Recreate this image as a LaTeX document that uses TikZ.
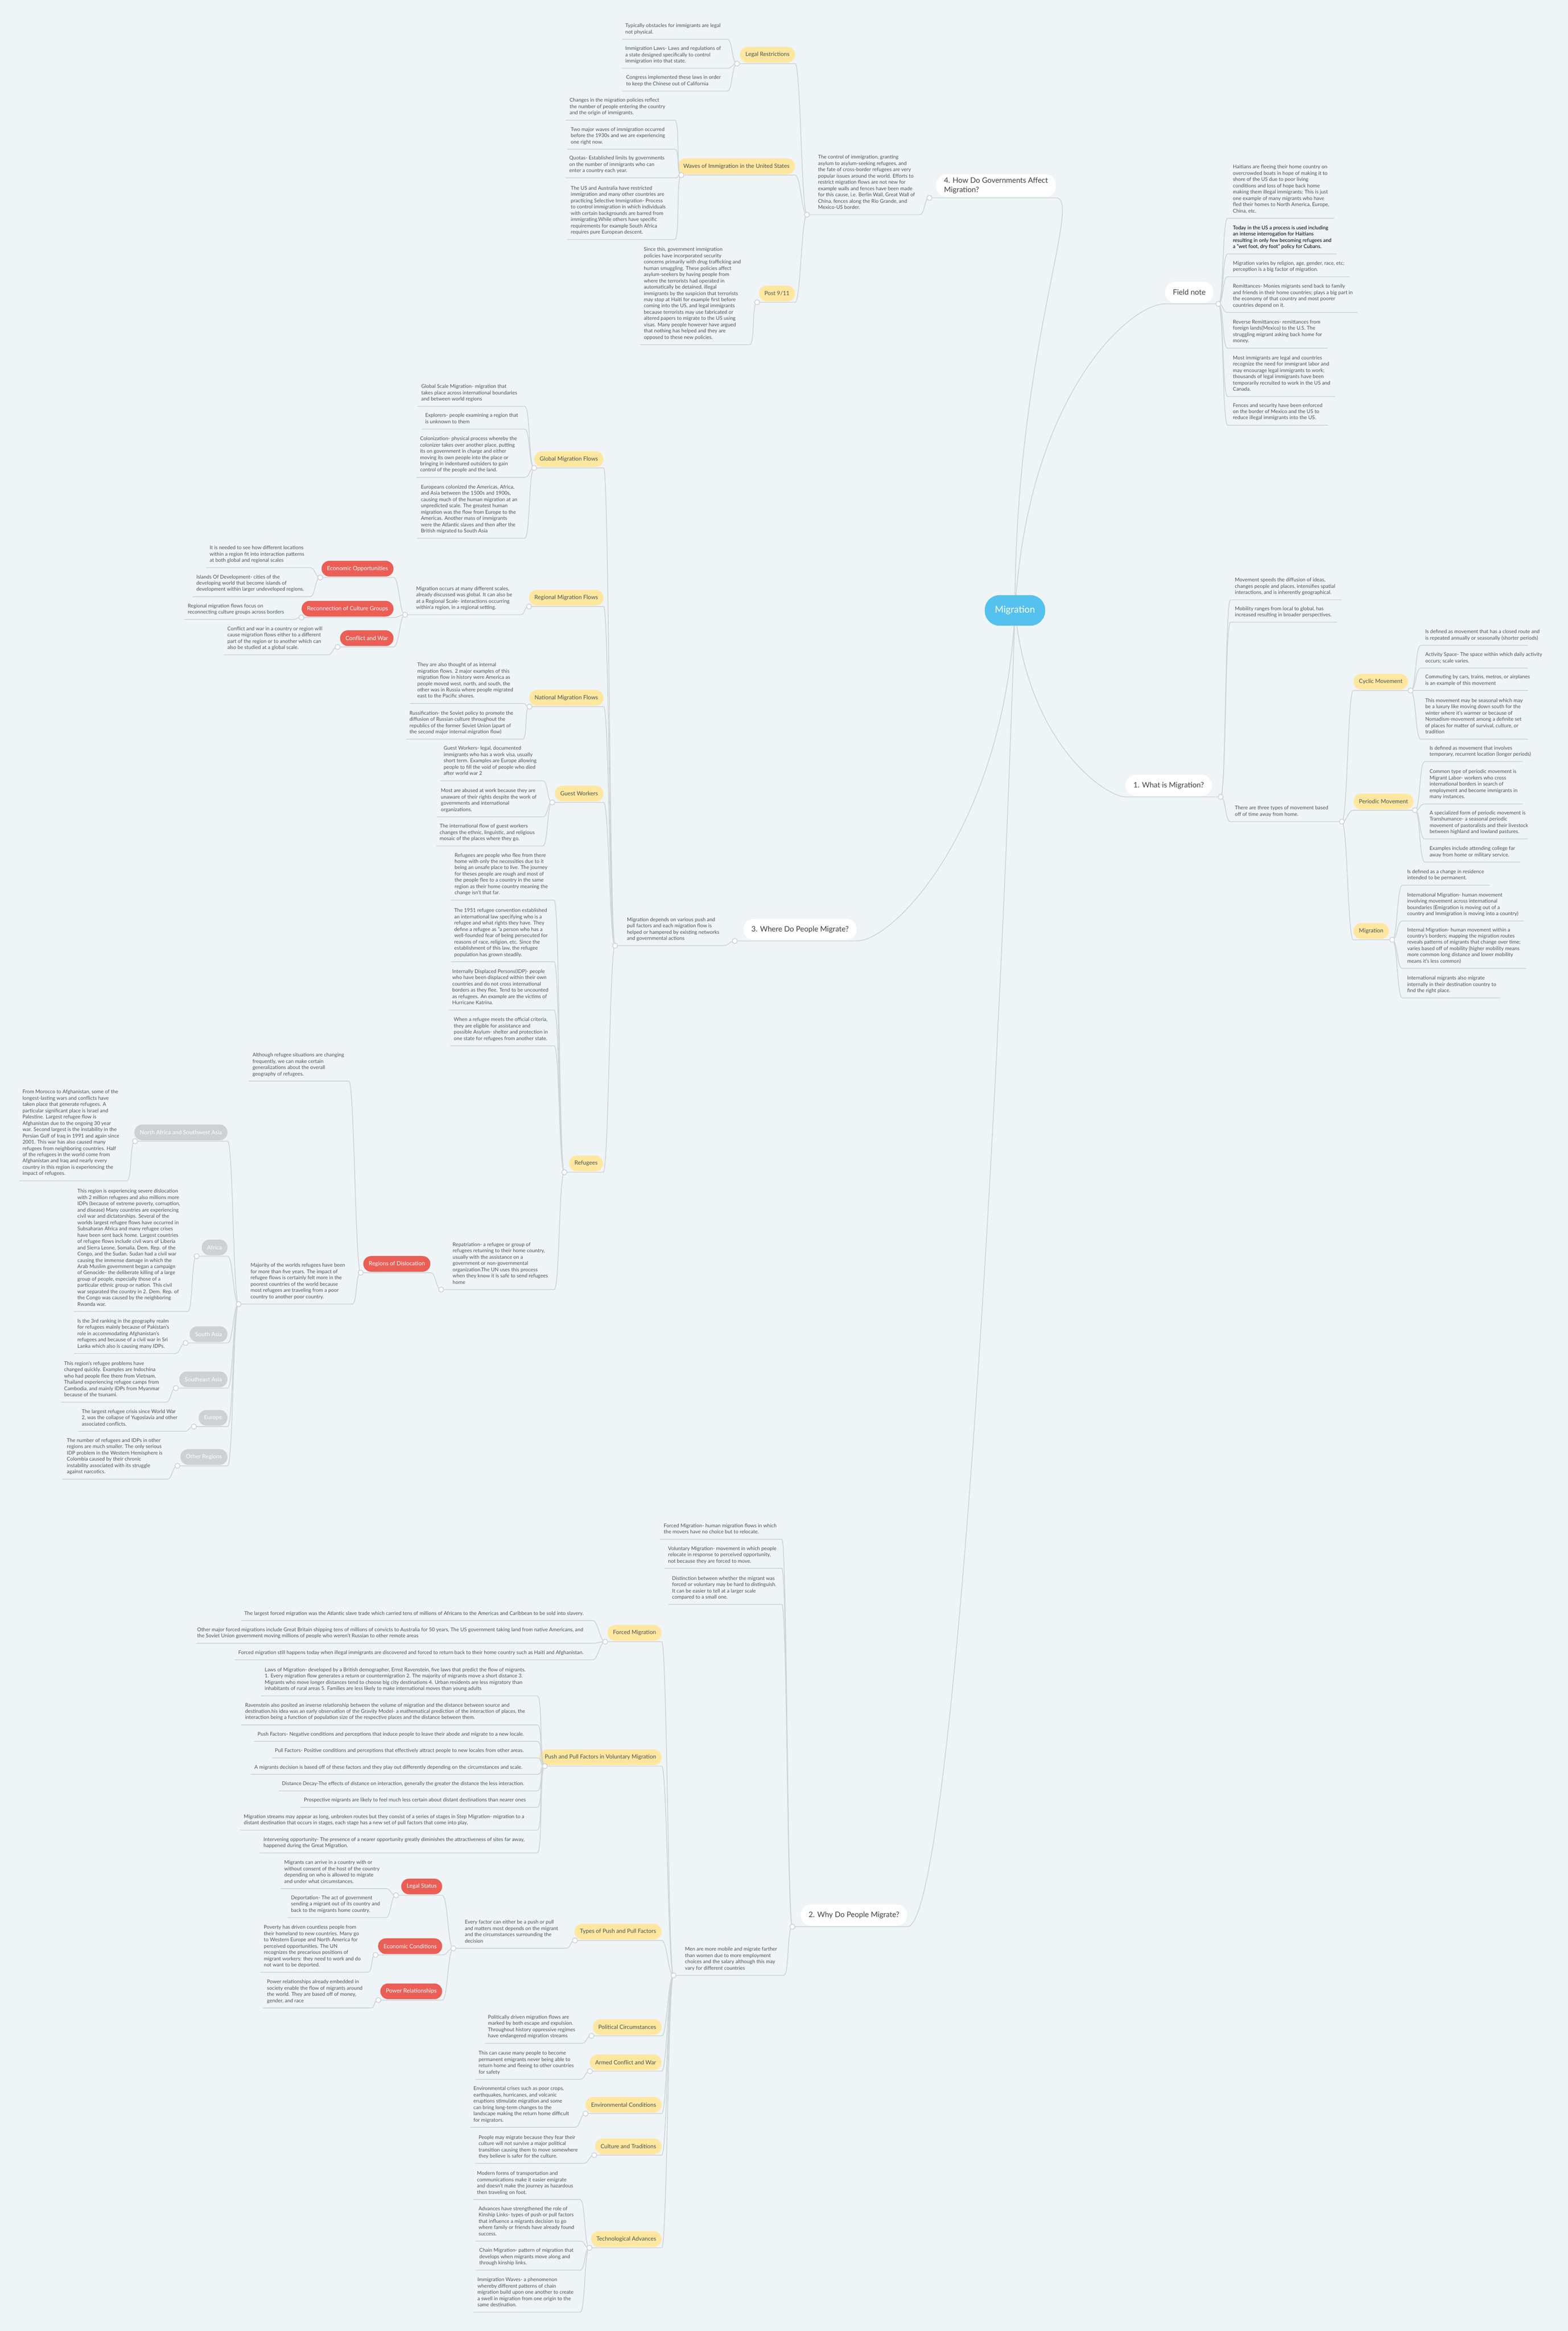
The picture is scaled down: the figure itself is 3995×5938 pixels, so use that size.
\documentclass[tikz,border=0pt]{standalone}
\usepackage{fontspec}
\setmainfont{Lato}
\usetikzlibrary{calc}
\definecolor{bgc}{HTML}{EFF4F7}
\definecolor{lnc}{HTML}{CFD4D8}
\definecolor{txt}{HTML}{4D5257}
\definecolor{yel}{HTML}{FFE7A0}
\definecolor{redp}{HTML}{EB5E55}
\definecolor{grayp}{HTML}{CDD1D4}
\definecolor{rootc}{HTML}{55C1EE}
\tikzset{
 ln/.style={draw=lnc,line width=1pt},
 leaf/.style={inner sep=0pt,align=left,text=txt,font=\fontsize{6.5}{8}\selectfont,execute at end node=\strut},
 ypill/.style={fill=yel,text=txt,rounded corners=10pt,minimum height=20pt,inner xsep=7pt,inner ysep=0pt,font=\fontsize{7.3}{8}\selectfont},
 rpill/.style={ypill,fill=redp,text=white},
 gpill/.style={ypill,fill=grayp,text=white},
 mpill/.style={fill=white,text=black!75,rounded corners=13pt,minimum height=27pt,inner xsep=10pt,inner ysep=4pt,align=left,font=\fontsize{9.5}{12}\selectfont},
 jc/.style={circle,draw=lnc,fill=white,line width=1pt,inner sep=0pt,minimum size=6.5pt}
}
\newcommand\LL[8][]{\node[leaf,anchor=south west,#1] (#2) at (#3,#6-9) {#8};
 \draw[ln] (#4,#6) -- (#5,#6) .. controls (#5+14,#6) and ([xshift=-7pt]#7) .. (#7);}
\newcommand\RL[8][]{\node[leaf,anchor=south west,#1] (#2) at (#3,#6-9) {#8};
 \draw[ln] (#7) .. controls ([xshift=7pt]#7) and (#4-14,#6) .. (#4,#6) -- (#5,#6);}
\newcommand\PL[7]{\node[#1,anchor=south east] (#2) at (#3,#4-2) {#7};
 \coordinate (#2-j) at (#5,#4);
 \draw[ln] (#2-j) -- (#3,#4) .. controls (#3+14,#4) and ([xshift=-7pt]#6) .. (#6);}
\newcommand\PR[7]{\node[#1,anchor=south west] (#2) at (#3,#4-2) {#7};
 \coordinate (#2-j) at (#5,#4);
 \draw[ln] (#6) .. controls ([xshift=7pt]#6) and (#3-14,#4) .. (#3,#4) -- (#2-j);}
\begin{document}
\begin{tikzpicture}[x=0.5pt,y=-0.5pt]
\fill[bgc] (0,0) rectangle (3995,5938);
\useasboundingbox (0,0) rectangle (3995,5938);
\coordinate (rootc) at (2586,1555);
% ---------- main pills
\node[mpill,anchor=south west] (m4) at (2385,502) {4. How Do Governments Affect\\Migration?};
\coordinate (m4-j) at (2368,504);
\draw[ln] (m4-j) -- (m4.south east |- m4-j) .. controls (2760,504) and (2586,900) .. (rootc);
\node[mpill,anchor=south west] (fn) at (2968,772) {Field note};
\coordinate (fn-j) at (3104,774);
\draw[ln] (rootc) .. controls (2620,1000) and (2880,774) .. (fn.south west |- fn-j) -- (fn-j);
\node[mpill,anchor=south east] (m1) at (3088,2028) {1. What is Migration?};
\coordinate (m1-j) at (3110,2030);
\draw[ln] (rootc) .. controls (2620,1900) and (2820,2030) .. (m1.south west |- m1-j) -- (m1-j);
\node[mpill,anchor=south west] (m3) at (1894,2395) {3. Where Do People Migrate?};
\coordinate (m3-j) at (1872,2397);
\draw[ln] (m3-j) -- (m3.south east |- m3-j) .. controls (2280,2397) and (2560,2100) .. (rootc);
\node[mpill,anchor=south west] (m2) at (2040,4906) {2. Why Do People Migrate?};
\coordinate (m2-j) at (2019,4908);
\draw[ln] (m2-j) -- (m2.south east |- m2-j) .. controls (2420,4908) and (2540,3000) .. (rootc);
% ---------- section 4
\LL{s4}{2084}{2056}{2343}{547}{m4-j}{The control of immigration, granting\\asylum to asylum-seeking refugees, and\\the fate of cross-border refugees are very\\popular issues around the world. Efforts to\\restrict migration flows are not new for\\example walls and fences have been made\\for this cause, i.e. Berlin Wall, Great Wall of\\China, fences along the Rio Grande, and\\Mexico-US border.}
\coordinate (s4j) at (2056,547);
\PL{ypill}{lr}{2026}{162}{1878}{s4j}{Legal Restrictions}
\PL{ypill}{wv}{2026}{446}{1736}{s4j}{Waves of Immigration in the United States}
\PL{ypill}{po}{2026}{770}{1929}{s4j}{Post 9/11}
\LL{a1}{1593}{1585}{1853}{100}{lr-j}{Typically obstacles for immigrants are legal\\not physical.}
\LL{a2}{1593}{1585}{1853}{174}{lr-j}{Immigration Laws- Laws and regulations of\\a state designed specifically to control\\immigration into that state.}
\LL{a3}{1595}{1586}{1853}{232}{lr-j}{Congress implemented these laws in order\\to keep the Chinese out of California}
\LL{b1}{1451}{1441}{1719}{306}{wv-j}{Changes in the migration policies reflect\\the number of people entering the country\\and the origin of immigrants.}
\LL{b2}{1454}{1445}{1719}{380}{wv-j}{Two major waves of immigration occurred\\before the 1930s and we are experiencing\\one right now.}
\LL{b3}{1450}{1441}{1719}{453}{wv-j}{Quotas- Established limits by governments\\on the number of immigrants who can\\enter a country each year.}
\LL{b4}{1454}{1445}{1719}{610}{wv-j}{The US and Australia have restricted\\immigration and many other countries are\\practicing Selective Immigration- Process\\to control immigration in which individuals\\with certain backgrounds are barred from\\immigrating.While others have specific\\requirements for example South Africa\\requires pure European descent.}
\LL{c1}{1640}{1631}{1910}{878}{po-j}{Since this, government immigration\\policies have incorporated security\\concerns primarily with drug trafficking and\\human smuggling. These policies affect\\asylum-seekers by having people from\\where the terrorists had operated in\\automatically be detained, illegal\\immigrants by the suspicion that terrorists\\may stop at Haiti for example first before\\coming into the US, and legal immigrants\\because terrorists may use fabricated or\\altered papers to migrate to the US using\\visas. Many people however have argued\\that nothing has helped and they are\\opposed to these new policies.}
% ---------- field note
\RL{d1}{3141}{3128}{3399}{556}{fn-j}{Haitians are fleeing their home country on\\overcrowded boats in hope of making it to\\shore of the US due to poor living\\conditions and loss of hope back home\\making them illegal immigrants; This is just\\one example of many migrants who have\\fled their homes to North America, Europe,\\China, etc.}
\RL[text=black]{d2}{3141}{3128}{3406}{647}{fn-j}{Today in the US a process is used including\\an intense interrogation for Haitians\\resulting in only few becoming refugees and\\a "wet foot, dry foot" policy for Cubans.}
\RL{d3}{3141}{3128}{3439}{705}{fn-j}{Migration varies by religion, age, gender, race, etc;\\perception is a big factor of migration.}
\RL{d4}{3141}{3128}{3459}{796}{fn-j}{Remittances- Monies migrants send back to family\\and friends in their home countries; plays a big part in\\the economy of that country and most poorer\\countries depend on it.}
\RL{d5}{3141}{3128}{3383}{887}{fn-j}{Reverse Remittances- remittances from\\foreign lands(Mexico) to the U.S. The\\struggling migrant asking back home for\\money.}
\RL{d6}{3141}{3128}{3401}{1010}{fn-j}{Most immigrants are legal and countries\\recognize the need for immigrant labor and\\may encourage legal immigrants to work;\\thousands of legal immigrants have been\\temporarily recruited to work in the US and\\Canada.}
\RL{d7}{3141}{3128}{3384}{1083}{fn-j}{Fences and security have been enforced\\on the border of Mexico and the US to\\reduce illegal immigrants into the US.}
% ---------- section 1
\RL{e1}{3146}{3135}{3419}{1528}{m1-j}{Movement speeds the diffusion of ideas,\\changes people and places, intensifies spatial\\interactions, and is inherently geographical.}
\RL{e2}{3146}{3135}{3407}{1585}{m1-j}{Mobility ranges from local to global, has\\increased resulting in broader perspectives.}
\RL{e3}{3146}{3135}{3419}{2093}{m1-j}{There are three types of movement based\\off of time away from home.}
\coordinate (t3j) at (3419,2093);
\PR{ypill}{cyc}{3448}{1759}{3594}{t3j}{Cyclic Movement}
\PR{ypill}{per}{3448}{2064}{3605}{t3j}{Periodic Movement}
\PR{ypill}{mig}{3448}{2394}{3547}{t3j}{Migration}
\RL{f1}{3631}{3620}{3893}{1644}{cyc-j}{Is defined as movement that has a closed route and\\is repeated annually or seasonally (shorter periods)}
\RL{f2}{3631}{3620}{3893}{1702}{cyc-j}{Activity Space- The space within which daily activity\\occurs; scale varies.}
\RL{f3}{3631}{3620}{3893}{1759}{cyc-j}{Commuting by cars, trains, metros, or airplanes\\is an example of this movement}
\RL{f4}{3631}{3620}{3893}{1883}{cyc-j}{This movement may be seasonal which may\\be a luxury like moving down south for the\\winter where it's warmer or because of\\Nomadism-movement among a definite set\\of places for matter of survival, culture, or\\tradition}
\RL{g1}{3642}{3630}{3880}{1940}{per-j}{Is defined as movement that involves\\temporary, recurrent location (longer periods)}
\RL{g2}{3642}{3630}{3880}{2048}{per-j}{Common type of periodic movement is\\Migrant Labor- workers who cross\\international borders in search of\\employment and become immigrants in\\many instances.}
\RL{g3}{3642}{3630}{3893}{2137}{per-j}{A specialized form of periodic movement is\\Transhumance- a seasonal periodic\\movement of pastoralists and their livestock\\between highland and lowland pastures.}
\RL{g4}{3642}{3630}{3874}{2196}{per-j}{Examples include attending college far\\away from home or military service.}
\RL{h1}{3585}{3573}{3795}{2255}{mig-j}{Is defined as a change in residence\\intended to be permanent.}
\RL{h2}{3585}{3573}{3883}{2346}{mig-j}{International Migration- human movement\\involving movement across international\\boundaries (Emigration is moving out of a\\country and Immigration is moving into a country)}
\RL{h3}{3585}{3573}{3889}{2467}{mig-j}{Internal Migration- human movement within a\\country's borders; mapping the migration routes\\reveals patterns of migrants that change over time;\\varies based off of mobility (higher mobility means\\more common long distance and lower mobility\\means it's less common)}
\RL{h4}{3585}{3573}{3822}{2542}{mig-j}{International migrants also migrate\\internally in their destination country to\\find the right place.}
% ---------- section 3
\LL{s3}{1597}{1567}{1843}{2409}{m3-j}{Migration depends on various push and\\pull factors and each migration flow is\\helped or hampered by existing networks\\and governmental actions}
\coordinate (s3j) at (1567,2409);
\PL{ypill}{glob}{1538}{1192}{1361}{s3j}{Global Migration Flows}
\PL{ypill}{reg}{1538}{1545}{1348}{s3j}{Regional Migration Flows}
\PL{ypill}{nat}{1538}{1800}{1349}{s3j}{National Migration Flows}
\PL{ypill}{gw}{1538}{2044}{1407}{s3j}{Guest Workers}
\PL{ypill}{ref}{1537}{2986}{1438}{s3j}{Refugees}
\LL{k1}{1073}{1064}{1337}{1035}{glob-j}{Global Scale Migration- migration that\\takes place across international boundaries\\and between world regions}
\LL{k2}{1083}{1075}{1337}{1093}{glob-j}{Explorers- people examining a region that\\is unknown to them}
\LL{k3}{1070}{1061}{1337}{1216}{glob-j}{Colonization- physical process whereby the\\colonizer takes over another place, putting\\its on government in charge and either\\moving its own people into the place or\\bringing in indentured outsiders to gain\\control of the people and the land.}
\LL{k4}{1072}{1063}{1337}{1371}{glob-j}{Europeans colonized the Americas, Africa,\\and Asia between the 1500s and 1900s,\\causing much of the human migration at an\\unpredicted scale. The greatest human\\migration was the flow from Europe to the\\Americas. Another mass of immigrants\\were the Atlantic slaves and then after the\\British migrated to South Asia}
\LL{k5}{1060}{1032}{1325}{1566}{reg-j}{Migration occurs at many different scales,\\already discussed was global. It can also be\\at a Regional Scale- interactions occurring\\within`a region, in a regional setting.}
\coordinate (rlj) at (1032,1566);
\PL{rpill}{eo}{1003}{1471}{816}{rlj}{Economic Opportunities}
\PL{rpill}{rc}{1003}{1573}{768}{rlj}{Reconnection of Culture Groups}
\PL{rpill}{cw}{1003}{1648}{860}{rlj}{Conflict and War}
\LL{n1}{534}{525}{790}{1446}{eo-j}{It is needed to see how different locations\\within a region fit into interaction patterns\\at both global and regional scales}
\LL{n2}{500}{491}{790}{1520}{eo-j}{Islands Of Development- cities of the\\developing world that become islands of\\development within larger undeveloped regions.}
\LL{n3}{478}{469}{745}{1578}{rc-j}{Regional migration flows focus on\\reconnecting culture groups across borders}
\LL{n4}{579}{570}{835}{1668}{cw-j}{Conflict and war in a country or region will\\cause migration flows either to a different\\part of the region or to another which can\\also be studied at a global scale.}
\LL{p1}{1063}{1045}{1331}{1792}{nat-j}{They are also thought of as internal\\migration flows. 2 major examples of this\\migration flow in history were America as\\people moved west, north, and south, the\\other was in Russia where people migrated\\east to the Pacific shores.}
\LL{p2}{1043}{1035}{1331}{1883}{nat-j}{Russification- the Soviet policy to promote the\\diffusion of Russian culture throughout the\\republics of the former Soviet Union (apart of\\the second major internal migration flow)}
\LL{q1}{1130}{1122}{1383}{1989}{gw-j}{Guest Workers- legal, documented\\immigrants who has a work visa, usually\\short term. Examples are Europe allowing\\people to fill the void of people who died\\after world war 2}
\LL{q2}{1123}{1114}{1383}{2081}{gw-j}{Most are abused at work because they are\\unaware of their rights despite the work of\\governments and international\\organizations.}
\LL{q3}{1120}{1112}{1383}{2155}{gw-j}{The international flow of guest workers\\changes the ethnic, linguistic, and religious\\mosaic of the places where they go.}
\LL{r1}{1158}{1149}{1412}{2293}{ref-j}{Refugees are people who flee from there\\home with only the necessities due to it\\being an unsafe place to live. The journey\\for theses people are rough and most of\\the people flee to a country in the same\\region as their home country meaning the\\change isn't that far.}
\LL{r2}{1157}{1149}{1412}{2450}{ref-j}{The 1951 refugee convention established\\an international law specifying who is a\\refugee and what rights they have. They\\define a refugee as "a person who has a\\well-founded fear of being persecuted for\\reasons of race, religion, etc. Since the\\establishment of this law, the refugee\\population has grown steadily.}
\LL{r3}{1152}{1143}{1412}{2573}{ref-j}{Internally Displaced Persons(IDP)- people\\who have been displaced within their own\\countries and do not cross international\\borders as they flee. Tend to be uncounted\\as refugees. An example are the victims of\\Hurricane Katrina.}
\LL{r4}{1156}{1147}{1412}{2664}{ref-j}{When a refugee meets the official criteria,\\they are eligible for assistance and\\possible Asylum- shelter and protection in\\one state for refugees from another state.}
\LL{r5}{1153}{1124}{1412}{3285}{ref-j}{Repatriation- a refugee or group of\\refugees returning to their home country,\\usually with the assistance on a\\government or non-governmental\\organization.The UN uses this process\\when they know it is safe to send refugees\\home}
\coordinate (rpj) at (1124,3285);
\PL{rpill}{rod}{1097}{3242}{919}{rpj}{Regions of Dislocation}
\LL{t1}{643}{634}{889}{2754}{rod-j}{Although refugee situations are changing\\frequently, we can make certain\\generalizations about the overall\\geography of refugees.}
\LL{t2}{638}{608}{897}{3322}{rod-j}{Majority of the worlds refugees have been\\for more than five years. The impact of\\refugee flows is certainly felt more in the\\poorest countries of the world because\\most refugees are traveling from a poor\\country to another poor country.}
\coordinate (mjj) at (608,3322);
\PL{gpill}{na}{580}{2907}{344}{mjj}{North Africa and Southwest Asia}
\PL{gpill}{af}{580}{3200}{501}{mjj}{Africa}
\PL{gpill}{sa}{580}{3421}{473}{mjj}{South Asia}
\PL{gpill}{sea}{580}{3536}{448}{mjj}{Southeast Asia}
\PL{gpill}{eu}{580}{3634}{494}{mjj}{Europe}
\PL{gpill}{ot}{580}{3734}{452}{mjj}{Other Regions}
\LL{u1}{57}{49}{323}{3008}{na-j}{From Morocco to Afghanistan, some of the\\longest-lasting wars and conflicts have\\taken place that generate refugees. A\\particular significant place is Israel and\\Palestine. Largest refugee flow is\\Afghanistan due to the ongoing 30 year\\war. Second largest is the instability in the\\Persian Gulf of Iraq in 1991 and again since\\2001. This war has also caused many\\refugees from neighboring countries. Half\\of the refugees in the world come from\\Afghanistan and Iraq and nearly every\\country in this region is experiencing the\\impact of refugees.}
\LL{u2}{197}{188}{478}{3341}{af-j}{This region is experiencing severe dislocation\\with 2 million refugees and also millions more\\IDPs (because of extreme poverty, corruption,\\and disease) Many countries are experiencing\\civil war and dictatorships. Several of the\\worlds largest refugee flows have occurred in\\Subsaharan Africa and many refugee crises\\have been sent back home. Largest countries\\of refugee flows include civil wars of Liberia\\and Sierra Leone, Somalia, Dem. Rep. of the\\Congo, and the Sudan. Sudan had a civil war\\causing the immense damage in which the\\Arab Muslim government began a campaign\\of Genocide- the deliberate killing of a large\\group of people, especially those of a\\particular ethnic group or nation. This civil\\war separated the country in 2. Dem. Rep. of\\the Congo was caused by the neighboring\\Rwanda war.}
\LL{u3}{197}{188}{446}{3448}{sa-j}{Is the 3rd ranking in the geography realm\\for refugees mainly because of Pakistan's\\role in accommodating Afghanistan's\\refugees and because of a civil war in Sri\\Lanka which also is causing many IDPs.}
\LL{u4}{163}{155}{423}{3572}{sea-j}{This region's refugee problems have\\changed quickly. Examples are Indochina\\who had people flee there from Vietnam,\\Thailand experiencing refugee camps from\\Cambodia, and mainly IDPs from Myanmar\\because of the tsunami.}
\LL{u5}{208}{199}{470}{3646}{eu-j}{The largest refugee crisis since World War\\2, was the collapse of Yugoslavia and other\\associated conflicts.}
\LL{u6}{170}{159}{426}{3768}{ot-j}{The number of refugees and IDPs in other\\regions are much smaller. The only serious\\IDP problem in the Western Hemisphere is\\Colombia caused by their chronic\\instability associated with its struggle\\against narcotics.}
% ---------- section 2
\LL{v1}{1691}{1681}{1992}{3921}{m2-j}{Forced Migration- human migration flows in which\\the movers have no choice but to relocate.}
\LL{v2}{1702}{1693}{1992}{3995}{m2-j}{Voluntary Migration- movement in which people\\relocate in response to perceived opportunity,\\not because they are forced to move.}
\LL{v3}{1712}{1703}{1992}{4087}{m2-j}{Distinction between whether the migrant was\\forced or voluntary may be hard to distinguish.\\It can be easier to tell at a larger scale\\compared to a small one.}
\LL{v4}{1745}{1716}{1997}{5032}{m2-j}{Men are more mobile and migrate farther\\than women due to more employment\\choices and the salary although this may\\vary for different countries}
\coordinate (mnj) at (1716,5032);
\PL{ypill}{fm}{1686}{4182}{1542}{mnj}{Forced Migration}
\PL{ypill}{pp}{1686}{4499}{1388}{mnj}{Push and Pull Factors in Voluntary Migration}
\PL{ypill}{ty}{1686}{4943}{1465}{mnj}{Types of Push and Pull Factors}
\PL{ypill}{pc}{1686}{5186}{1507}{mnj}{Political Circumstances}
\PL{ypill}{ac}{1686}{5276}{1503}{mnj}{Armed Conflict and War}
\PL{ypill}{en}{1686}{5384}{1492}{mnj}{Environmental Conditions}
\PL{ypill}{cu}{1686}{5490}{1514}{mnj}{Culture and Traditions}
\PL{ypill}{te}{1686}{5726}{1502}{mnj}{Technological Advances}
\LL{w1}{622}{615}{1510}{4128}{fm-j}{The largest forced migration was the Atlantic slave trade which carried tens of millions of Africans to the Americas and Caribbean to be sold into slavery.}
\LL{w2}{502}{500}{1510}{4186}{fm-j}{Other major forced migrations include Great Britain shipping tens of millions of convicts to Australia for 50 years, The US government taking land from native Americans, and\\the Soviet Union government moving millions of people who weren't Russian to other remote areas}
\LL{w3}{607}{598}{1510}{4228}{fm-j}{Forced migration still happens today when illegal immigrants are discovered and forced to return back to their home country such as Haiti and Afghanistan.}
\LL{x1}{674}{665}{1369}{4320}{pp-j}{Laws of Migration- developed by a British demographer, Ernst Ravenstein, five laws that predict the flow of migrants.\\1. Every migration flow generates a return or countermigration 2. The majority of migrants move a short distance 3.\\Migrants who move longer distances tend to choose big city destinations 4. Urban residents are less migratory than\\inhabitants of rural areas 5. Families are less likely to make international moves than young adults}
\LL{x2}{624}{615}{1369}{4394}{pp-j}{Ravenstein also posited an inverse relationship between the volume of migration and the distance between source and\\destination.his idea was an early observation of the Gravity Model- a mathematical prediction of the interaction of places, the\\interaction being a function of population size of the respective places and the distance between them.}
\LL{x3}{656}{647}{1369}{4436}{pp-j}{Push Factors- Negative conditions and perceptions that induce people to leave their abode and migrate to a new locale.}
\LL{x4}{700}{693}{1369}{4478}{pp-j}{Pull Factors- Positive conditions and perceptions that effectively attract people to new locales from other areas.}
\LL{x5}{648}{639}{1369}{4520}{pp-j}{A migrants decision is based off of these factors and they play out differently depending on the circumstances and scale.}
\LL{x6}{718}{710}{1369}{4562}{pp-j}{Distance Decay-The effects of distance on interaction, generally the greater the distance the less interaction.}
\LL{x7}{774}{765}{1369}{4604}{pp-j}{Prospective migrants are likely to feel much less certain about distant destinations than nearer ones}
\LL{x8}{621}{612}{1369}{4662}{pp-j}{Migration streams may appear as long, unbroken routes but they consist of a series of stages in Step Migration- migration to a\\distant destination that occurs in stages, each stage has a new set of pull factors that come into play,}
\LL{x9}{671}{662}{1369}{4720}{pp-j}{Intervening opportunity- The presence of a nearer opportunity greatly diminishes the attractiveness of sites far away,\\happened during the Great Migration.}
\LL{y1}{1184}{1155}{1442}{4963}{ty-j}{Every factor can either be a push or pull\\and matters most depends on the migrant\\and the circumstances surrounding the\\decision}
\coordinate (tfj) at (1155,4963);
\PL{rpill}{ls}{1127}{4828}{1009}{tfj}{Legal Status}
\PL{rpill}{ec}{1127}{4980}{957}{tfj}{Economic Conditions}
\PL{rpill}{pr}{1127}{5095}{964}{tfj}{Power Relationships}
\LL{z1}{724}{715}{983}{4811}{ls-j}{Migrants can arrive in a country with or\\without consent of the host of the country\\depending on who is allowed to migrate\\and under what circumstances.}
\LL{z2}{741}{732}{983}{4885}{ls-j}{Deportation- The act of government\\sending a migrant out of its country and\\back to the migrants home country.}
\LL{z3}{672}{663}{937}{5024}{ec-j}{Poverty has driven countless people from\\their homeland to new countries. Many go\\to Western Europe and North America for\\perceived opportunities. The UN\\recognizes the precarious positions of\\migrant workers: they need to work and do\\not want to be deported.}
\LL{z4}{680}{670}{944}{5115}{pr-j}{Power relationships already embedded in\\society enable the flow of migrants around\\the world. They are based off of money,\\gender, and race}
\LL{o1}{1243}{1235}{1482}{5205}{pc-j}{Politically driven migration flows are\\marked by both escape and expulsion.\\Throughout history oppressive regimes\\have endangered migration streams}
\LL{o2}{1219}{1211}{1478}{5297}{ac-j}{This can cause many people to become\\permanent emigrants never being able to\\return home and fleeing to other countries\\for safety}
\LL{o3}{1206}{1198}{1465}{5419}{en-j}{Environmental crises such as poor crops,\\earthquakes, hurricanes, and volcanic\\eruptions stimulate migration and some\\can bring long-term changes to the\\landscape making the return home difficult\\for migrators.}
\LL{o4}{1219}{1211}{1487}{5511}{cu-j}{People may migrate because they fear their\\culture will not survive a major political\\transition causing them to move somewhere\\they believe is safer for the culture.}
\LL{o5}{1215}{1206}{1478}{5603}{te-j}{Modern forms of transportation and\\communications make it easier emigrate\\and doesn't make the journey as hazardous\\then traveling on foot.}
\LL{o6}{1219}{1211}{1478}{5709}{te-j}{Advances have strengthened the role of\\Kinship Links- types of push or pull factors\\that influence a migrants decision to go\\where family or friends have already found\\success.}
\LL{o7}{1221}{1212}{1478}{5783}{te-j}{Chain Migration- pattern of migration that\\develops when migrants move along and\\through kinship links.}
\LL{o8}{1216}{1207}{1478}{5890}{te-j}{Immigration Waves- a phenomenon\\whereby different patterns of chain\\migration build upon one another to create\\a swell in migration from one origin to the\\same destination.}
% ---------- junction circles
\foreach \c in {m4-j,fn-j,m1-j,m3-j,m2-j,s4j,lr-j,wv-j,po-j,t3j,cyc-j,per-j,mig-j,s3j,glob-j,reg-j,nat-j,gw-j,ref-j,rlj,eo-j,rc-j,cw-j,rpj,rod-j,mjj,na-j,af-j,sa-j,sea-j,eu-j,ot-j,mnj,fm-j,pp-j,ty-j,pc-j,ac-j,en-j,cu-j,te-j,tfj,ls-j,ec-j,pr-j}
 \node[jc] (c-\c) at (\c) {};
% ---------- root
\node[fill=rootc,text=white,rounded corners=19pt,minimum width=77pt,minimum height=39pt,font=\fontsize{12}{14}\selectfont] (root) at (rootc) {Migration};
\end{tikzpicture}
\end{document}
